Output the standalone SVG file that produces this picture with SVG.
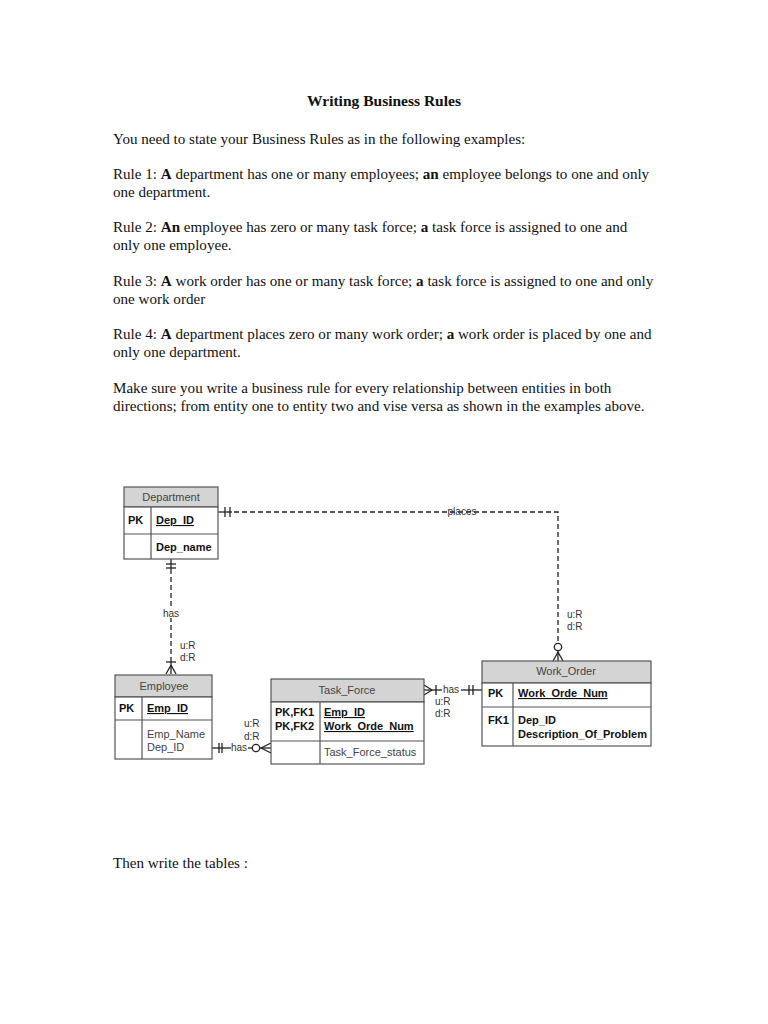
<svg xmlns="http://www.w3.org/2000/svg" width="768" height="1024" viewBox="0 0 768 1024">
<style>
.p{font-family:"Liberation Serif","Times New Roman",serif;font-size:15.1px;fill:#111}
.pb{font-weight:bold}
.t{font-size:15.5px}
.d{font-family:"Liberation Sans",Arial,sans-serif;font-size:11px;fill:#111}
.b{font-weight:bold}
.u{text-decoration:underline}
.g{fill:#444}
.box{fill:#fff;stroke:#555;stroke-width:1.2}
.hdr{fill:#d4d4d4;stroke:#555;stroke-width:1.2}
.ln{stroke:#555;stroke-width:1.2;fill:none}
.c{stroke:#222;stroke-width:1.3;fill:none}
.dash{stroke-dasharray:5,3}
.lab{font-family:"Liberation Sans",Arial,sans-serif;font-size:10px;fill:#333}
</style>
<rect width="768" height="1024" fill="#fff"/>
<g id="text">
<text class="p pb t" x="384" y="106" text-anchor="middle">Writing Business Rules</text>
<text class="p" x="113" y="144">You need to state your Business Rules as in the following examples:</text>
<text class="p" x="113" y="179">Rule 1: <tspan class="pb">A</tspan> department has one or many employees; <tspan class="pb">an</tspan> employee belongs to one and only</text>
<text class="p" x="113" y="197">one department.</text>
<text class="p" x="113" y="232">Rule 2: <tspan class="pb">An</tspan> employee has zero or many task force; <tspan class="pb">a</tspan> task force is assigned to one and</text>
<text class="p" x="113" y="250">only one employee.</text>
<text class="p" x="113" y="286">Rule 3: <tspan class="pb">A</tspan> work order has one or many task force; <tspan class="pb">a</tspan> task force is assigned to one and only</text>
<text class="p" x="113" y="304">one work order</text>
<text class="p" x="113" y="339">Rule 4: <tspan class="pb">A</tspan> department places zero or many work order; <tspan class="pb">a</tspan> work order is placed by one and</text>
<text class="p" x="113" y="357">only one department.</text>
<text class="p" x="113" y="393">Make sure you write a business rule for every relationship between entities in both</text>
<text class="p" x="113" y="411">directions; from entity one to entity two and vise versa as shown in the examples above.</text>
<text class="p" x="113" y="868">Then write the tables :</text>
</g>
<g id="connectors">
<!-- places -->
<line class="c" x1="218" y1="512" x2="232" y2="512"/>
<line class="c" x1="225" y1="507" x2="225" y2="517"/>
<line class="c" x1="230" y1="507" x2="230" y2="517"/>
<polyline class="c dash" points="234,512 558,512 558,643"/>
<circle class="c" cx="558" cy="647" r="3.7" fill="#fff"/>
<line class="c" x1="558" y1="651" x2="558" y2="661"/>
<line class="c" x1="558" y1="652" x2="553" y2="661"/>
<line class="c" x1="558" y1="652" x2="563" y2="661"/>
<text class="lab" x="462" y="515" text-anchor="middle">places</text>
<text class="lab" x="567" y="618">u:R</text>
<text class="lab" x="567" y="630">d:R</text>
<!-- dept-emp has -->
<line class="c" x1="171" y1="559" x2="171" y2="574"/>
<line class="c" x1="166" y1="564" x2="176" y2="564"/>
<line class="c" x1="166" y1="568" x2="176" y2="568"/>
<line class="c dash" x1="171" y1="577" x2="171" y2="660"/>
<line class="c" x1="171" y1="660" x2="171" y2="674"/>
<line class="c" x1="166" y1="662" x2="176" y2="662"/>
<line class="c" x1="171" y1="665" x2="166" y2="674"/>
<line class="c" x1="171" y1="665" x2="176" y2="674"/>
<rect x="161" y="608" width="20" height="10" fill="#fff"/>
<text class="lab" x="171" y="617" text-anchor="middle">has</text>
<text class="lab" x="180" y="649">u:R</text>
<text class="lab" x="180" y="661">d:R</text>
<!-- emp-taskforce has -->
<line class="c" x1="212" y1="748" x2="231" y2="748"/>
<line class="c" x1="219" y1="743" x2="219" y2="753"/>
<line class="c" x1="222" y1="743" x2="222" y2="753"/>
<text class="lab" x="231" y="751">has</text>
<line class="c" x1="248" y1="748" x2="252" y2="748"/>
<circle class="c" cx="256" cy="748" r="3.7" fill="#fff"/>
<line class="c" x1="260" y1="748" x2="271" y2="748"/>
<line class="c" x1="261" y1="748" x2="271" y2="743"/>
<line class="c" x1="261" y1="748" x2="271" y2="753"/>
<text class="lab" x="244" y="727">u:R</text>
<text class="lab" x="244" y="740">d:R</text>
<!-- taskforce-workorder has -->
<line class="c" x1="424" y1="690" x2="442" y2="690"/>
<line class="c" x1="432" y1="690" x2="424" y2="685"/>
<line class="c" x1="432" y1="690" x2="424" y2="695"/>
<line class="c" x1="436" y1="685" x2="436" y2="695"/>
<text class="lab" x="443" y="693">has</text>
<line class="c" x1="461" y1="690" x2="482" y2="690"/>
<line class="c" x1="469" y1="685" x2="469" y2="695"/>
<line class="c" x1="473" y1="685" x2="473" y2="695"/>
<text class="lab" x="435" y="705">u:R</text>
<text class="lab" x="435" y="717">d:R</text>
</g>
<g id="department">
<rect class="hdr" x="124" y="487" width="94" height="20"/>
<rect class="box" x="124" y="507" width="94" height="52"/>
<line class="ln" x1="124" y1="534" x2="218" y2="534"/>
<line class="ln" x1="151" y1="507" x2="151" y2="559"/>
<text class="d g" x="171" y="501" text-anchor="middle">Department</text>
<text class="d b" x="128" y="524">PK</text>
<text class="d b u" x="156" y="524">Dep_ID</text>
<text class="d b" x="156" y="551">Dep_name</text>
</g>
<g id="employee">
<rect class="hdr" x="115" y="675" width="97" height="22"/>
<rect class="box" x="115" y="697" width="97" height="62"/>
<line class="ln" x1="115" y1="720" x2="212" y2="720"/>
<line class="ln" x1="142" y1="697" x2="142" y2="759"/>
<text class="d g" x="164" y="690" text-anchor="middle">Employee</text>
<text class="d b" x="119" y="712">PK</text>
<text class="d b u" x="147" y="712">Emp_ID</text>
<text class="d g" x="147" y="738">Emp_Name</text>
<text class="d g" x="147" y="751">Dep_ID</text>
</g>
<g id="task_force">
<rect class="hdr" x="271" y="679" width="153" height="23"/>
<rect class="box" x="271" y="702" width="153" height="62"/>
<line class="ln" x1="271" y1="741" x2="424" y2="741"/>
<line class="ln" x1="320" y1="702" x2="320" y2="764"/>
<text class="d g" x="347" y="694" text-anchor="middle">Task_Force</text>
<text class="d b" x="275" y="716">PK,FK1</text>
<text class="d b" x="275" y="730">PK,FK2</text>
<text class="d b u" x="324" y="716">Emp_ID</text>
<text class="d b u" x="324" y="730">Work_Orde_Num</text>
<text class="d g" x="324" y="756">Task_Force_status</text>
</g>
<g id="work_order">
<rect class="hdr" x="482" y="661" width="169" height="22"/>
<rect class="box" x="482" y="683" width="169" height="63"/>
<line class="ln" x1="482" y1="707" x2="651" y2="707"/>
<line class="ln" x1="513" y1="683" x2="513" y2="746"/>
<text class="d g" x="566" y="675" text-anchor="middle">Work_Order</text>
<text class="d b" x="488" y="697">PK</text>
<text class="d b u" x="518" y="697">Work_Orde_Num</text>
<text class="d b" x="488" y="724">FK1</text>
<text class="d b" x="518" y="724">Dep_ID</text>
<text class="d b" x="518" y="738">Description_Of_Problem</text>
</g>
</svg>
